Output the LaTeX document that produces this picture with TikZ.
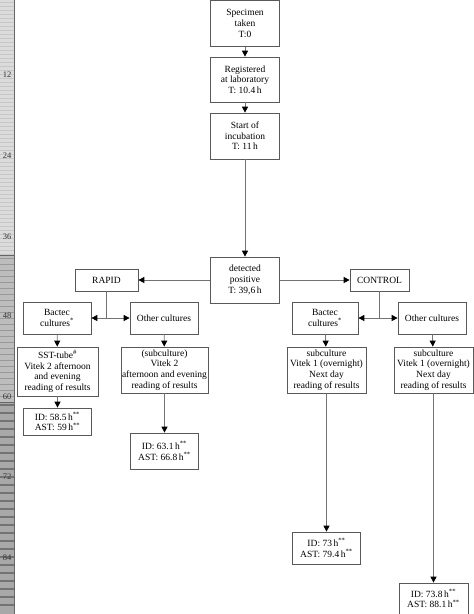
\documentclass[tikz,border=0pt]{standalone}
\usepackage{fontspec}
\setmainfont{Liberation Serif}
\usetikzlibrary{arrows.meta}
\begin{document}
\begin{tikzpicture}[x=1pt,y=-1pt,
  box/.style={draw=black!65, line width=0.7pt, fill=white, align=center, inner sep=0pt,
    font=\fontsize{9.5}{10.7}\selectfont},
  conn/.style={draw=black!55, line width=0.8pt},
  arr/.style={conn, -{Triangle[width=6pt,length=6pt,color=black]}},
  scalelbl/.style={font=\fontsize{8.5}{9}\selectfont, text=black!80, inner sep=0.5pt}
]
\useasboundingbox (0,0) rectangle (474,614);
% time scale strip
\fill[black!14] (0,0) rectangle (14,255);
\fill[black!26] (0,255) rectangle (14,402);
\fill[black!34] (0,402) rectangle (14,614);
\foreach \yy in {2,6,...,254} {\draw[black!22, line width=0.6pt] (0,\yy) -- (14,\yy);}
\foreach \yy in {258,264,...,400} {\draw[black!40, line width=1pt] (0,\yy) -- (14,\yy);}
\foreach \yy in {405,413,...,612} {\draw[black!55, line width=2pt] (0,\yy) -- (14,\yy);}
\draw[black!60, line width=0.5pt] (0,255) -- (14,255);
\draw[black!60, line width=0.5pt] (0,402) -- (14,402);
\draw[black!60, line width=0.8pt] (14,0) -- (14,614);
\node[scalelbl] (t12) at (7,75) {12};
\node[scalelbl] (t24) at (7,156) {24};
\node[scalelbl] (t36) at (7,237) {36};
\node[scalelbl] (t48) at (7,316) {48};
\node[scalelbl] (t60) at (7,397) {60};
\node[scalelbl] (t72) at (7,477) {72};
\node[scalelbl] (t84) at (7,558) {84};

% main column
\node[box, minimum width=69pt, minimum height=46pt] (spec) at (245,23.5) {Specimen\\taken\\T:0};
\node[box, minimum width=69pt, minimum height=45pt] (reg) at (245,79.5) {Registered\\at laboratory\\T: 10.4\,h};
\node[box, minimum width=69pt, minimum height=46pt] (inc) at (245,136) {Start of\\incubation\\T: 11\,h};
\node[box, minimum width=69pt, minimum height=46pt] (det) at (245,280) {detected\\positive\\T: 39,6\,h};
\node[box, minimum width=63pt, minimum height=22pt] (rapid) at (106.5,280) {RAPID};
\node[box, minimum width=59pt, minimum height=22pt] (control) at (379.5,280) {CONTROL};

\node[box, minimum width=68pt, minimum height=32pt] (bacL) at (57,318) {Bactec\\cultures\textsuperscript{*}};
\node[box, minimum width=68pt, minimum height=32pt] (othL) at (164,318) {Other cultures};
\node[box, minimum width=66pt, minimum height=32pt] (bacR) at (325,318) {Bactec\\cultures\textsuperscript{*}};
\node[box, minimum width=68pt, minimum height=32pt] (othR) at (432,318) {Other cultures};

\node[box, minimum width=81pt, minimum height=49pt] (sst) at (57.5,371.5) {SST-tube\textsuperscript{\#}\\Vitek 2 afternoon\\and evening\\reading of results};
\node[box, minimum width=87pt, minimum height=46pt] (subL) at (164.5,370) {(subculture)\\Vitek 2\\afternoon and evening\\reading of results};
\node[box, minimum width=79pt, minimum height=46pt] (subR1) at (326.5,370) {subculture\\Vitek 1 (overnight)\\Next day\\reading of results};
\node[box, minimum width=79pt, minimum height=46pt] (subR2) at (433.5,370) {subculture\\Vitek 1 (overnight)\\Next day\\reading of results};

\node[box, minimum width=68pt, minimum height=27pt] (idL1) at (57.5,421.5) {ID: 58.5\,h\textsuperscript{**}\\AST: 59\,h\textsuperscript{**}};
\node[box, minimum width=68pt, minimum height=36pt] (idL2) at (164.5,451) {ID: 63.1\,h\textsuperscript{**}\\AST: 66.8\,h\textsuperscript{**}};
\node[box, minimum width=68pt, minimum height=32pt] (idR1) at (326.5,548) {ID: 73\,h\textsuperscript{**}\\AST: 79.4\,h\textsuperscript{**}};
\node[box, minimum width=69pt, minimum height=31pt] (idR2) at (433.5,598.5) {ID: 73.8\,h\textsuperscript{**}\\AST: 88.1\,h\textsuperscript{**}};

% connectors
\draw[arr] (spec) -- (reg);
\draw[arr] (reg) -- (inc);
\draw[arr] (inc) -- (det);
\draw[arr] (det) -- (rapid);
\draw[arr] (det) -- (control);

\coordinate (rj) at (rapid.south |- bacL.east);
\draw[conn] (rapid.south) -- (rj);
\draw[arr] (rj) -- (bacL.east);
\draw[arr] (rj) -- (othL.west);

\coordinate (cj) at (control.south |- bacR.east);
\draw[conn] (control.south) -- (cj);
\draw[arr] (cj) -- (bacR.east);
\draw[arr] (cj) -- (othR.west);

\draw[arr] (bacL) -- (sst);
\draw[arr] (sst) -- (idL1);
\draw[arr] (othL) -- (subL);
\draw[arr] (subL) -- (idL2);
\draw[arr] (bacR) -- (subR1);
\draw[arr] (subR1) -- (idR1);
\draw[arr] (othR) -- (subR2);
\draw[arr] (subR2) -- (idR2);
\end{tikzpicture}
\end{document}
